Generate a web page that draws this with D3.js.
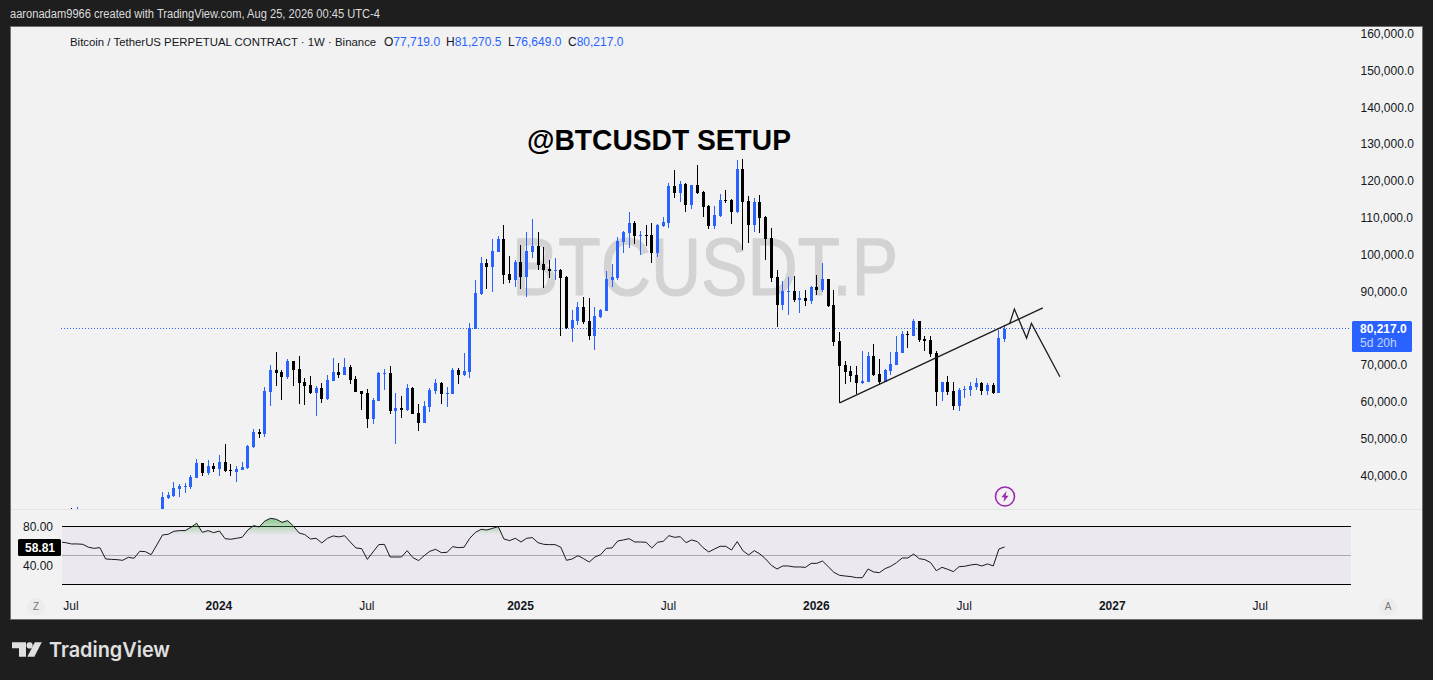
<!DOCTYPE html>
<html>
<head>
<meta charset="utf-8">
<script src="https://cdn.jsdelivr.net/npm/d3@7"></script>
<style>
    html, body { margin: 0; padding: 0; background: #1e1e1e; overflow: hidden; }
    svg { display: block; font-family: "Liberation Sans", Arial, sans-serif; }
    .domain { display: none; }
</style>
</head>
<body>
<div id="chart"></div>
<script>
// weekly candles, prices in thousands of USDT. First 18 weeks sit below the visible pane.
let opens = [26.3,30.5,30.5,30.2,30.3,29.9,29.3,29.2,29.0,29.4,26.0,26.1,25.9,25.8,26.5,26.5,26.3,27.9,
    30.0,33.9,34.4,36.3,36.9,36.9,39.3,43.4,40.7,42.6,
    41.8,43.7,41.5,41.0,41.5,42.0,47.7,51.8,51.3,62.7,
    68.6,68.1,66.7,71.1,68.9,65.4,64.6,62.4,63.8,60.8,
    65.7,68.1,67.3,69.5,66.2,62.9,62.4,55.3,60.2,67.5,
    67.8,57.5,58.3,57.8,63.8,57.0,54.3,58.6,62.9,65.1,
    62.1,62.1,68.6,67.3,68.1,79.8,89.3,97.7,96.6,100.7,
    104.2,94.7,93.1,98.0,93.9,100.7,102.3,97.4,96.1,95.5,
    95.8,93.9,80.0,82.0,85.7,82.0,77.9,83.0,84.7,93.1,
    93.6,103.4,105.8,108.5,105.0,105.3,105.3,100.4,107.7,108.5,
    118.6,116.7,119.1,113.4,118.9,117.0,113.2,107.7,110.5,114.8,
    114.8,111.5,123.2,114.5,108.0,114.3,110.2,104.5,93.9,86.3,
    89.8,90.1,87.6,88.2,87.4,91.2,90.4,93.3,86.3,76.5,
    70.0,68.4,67.3,65.1,65.4,72.4,67.6,65.4,68.4,70.0,
    73.3,78.4,77.9,81.9,77.1,76.8,73.3,62.7,65.4,62.9,
    58.9,63.2,63.2,64.0,65.1,62.9,64.6,62.4,77.1];

let highs = [30.7,30.8,31.3,31.4,30.4,30.0,29.7,30.2,29.7,29.6,26.8,28.1,26.4,26.9,27.5,26.8,28.5,30.0,
    35.5,35.5,38.2,37.7,38.0,40.1,44.5,43.4,44.2,43.4,
    45.6,48.5,43.1,42.6,43.7,48.3,52.6,52.6,64.0,70.0,
    73.5,68.6,71.6,71.1,72.4,66.5,67.0,64.3,65.1,67.3,
    71.9,70.5,71.9,70.0,67.0,62.9,63.5,61.0,68.1,68.9,
    69.7,62.4,61.6,64.8,64.0,59.4,60.2,63.8,66.2,65.4,
    64.0,69.2,69.2,73.3,81.4,93.1,99.3,98.8,104.2,105.0,
    108.0,99.6,98.5,102.6,106.1,109.6,106.1,102.0,98.5,99.0,
    96.1,94.2,84.9,87.1,88.5,88.2,85.7,85.2,95.5,97.4,
    104.8,106.4,111.5,109.1,106.4,108.0,108.6,108.3,110.2,119.4,
    122.9,120.0,119.4,118.9,124.3,117.2,113.4,113.2,116.4,117.5,
    115.1,125.7,125.9,115.9,115.3,116.2,110.5,107.2,95.8,92.8,
    93.9,94.2,90.1,90.4,91.4,94.4,97.7,93.3,90.4,78.9,
    71.1,69.7,69.7,73.8,73.5,75.7,71.6,68.9,73.5,77.9,
    79.2,79.2,82.5,81.9,77.9,77.9,73.8,65.4,67.0,65.4,
    63.8,64.3,65.4,66.5,65.4,65.1,65.1,79.5,80.9];

let lows = [26.2,29.5,29.9,29.7,29.6,29.2,28.9,28.6,28.7,25.2,25.6,25.9,24.9,25.6,26.4,26.0,26.0,27.2,
    29.9,33.6,34.2,34.2,35.2,36.3,39.3,39.9,40.1,41.0,
    39.9,41.0,39.9,38.2,41.5,41.8,47.5,50.2,50.4,58.9,
    64.3,60.5,66.2,64.3,59.4,59.1,62.1,56.2,59.7,60.5,
    65.7,66.5,67.3,64.8,62.7,57.8,52.9,54.0,60.2,63.2,
    56.7,48.5,55.6,57.5,56.7,52.1,54.3,57.2,62.1,59.4,
    58.6,62.1,64.8,67.0,66.5,79.8,89.0,90.6,89.8,100.7,
    92.0,92.3,91.2,90.6,88.5,99.0,95.8,90.9,93.6,93.1,
    77.9,79.8,76.2,80.9,81.1,76.8,74.1,82.8,84.7,91.3,
    93.1,100.4,101.8,102.9,99.9,102.3,97.7,99.3,107.5,107.2,
    115.3,114.3,111.5,112.4,116.4,110.2,106.9,106.9,110.2,114.0,
    108.3,111.3,101.2,103.1,106.1,105.8,98.5,92.5,80.3,84.9,
    83.6,87.1,84.1,86.0,86.6,89.0,89.8,85.7,75.2,59.7,
    64.8,65.4,62.1,64.8,65.4,67.0,64.6,65.4,67.3,70.0,
    73.3,74.6,77.9,76.2,73.8,72.2,58.9,60.2,61.9,57.8,
    57.5,61.0,61.6,63.2,61.9,61.9,62.1,62.4,76.2];

let closes = [30.5,30.4,30.3,30.3,29.9,29.3,29.2,29.0,29.4,26.0,26.1,25.9,25.8,26.5,26.5,26.3,27.9,30.0,
    34.2,34.7,36.6,37.1,37.1,39.6,43.4,40.7,42.6,41.8,
    43.7,41.2,41.2,41.8,42.3,48.0,51.8,51.3,62.9,68.6,
    67.8,66.7,71.1,68.6,65.1,64.3,62.4,63.8,60.8,65.9,
    68.1,67.3,69.5,65.9,62.7,62.1,55.3,60.5,67.8,67.8,
    57.5,58.3,57.8,63.8,56.7,54.3,58.9,63.2,65.1,62.1,
    62.4,68.6,67.3,68.4,80.0,89.5,97.7,96.6,101.0,104.2,
    94.4,93.1,98.0,93.9,101.0,102.3,97.1,95.8,95.5,95.8,
    93.6,80.0,82.2,85.7,81.7,77.9,83.3,84.9,93.4,93.9,
    103.7,106.1,108.5,105.0,105.3,105.0,100.4,108.0,108.8,118.6,
    116.7,119.1,113.4,118.9,116.7,112.9,107.7,110.7,114.8,114.5,
    111.5,123.2,114.3,108.0,114.3,109.9,104.2,93.6,86.3,90.1,
    90.1,87.6,88.2,87.4,91.2,90.4,93.3,86.0,76.2,69.7,
    68.1,67.0,65.1,65.7,72.4,67.3,65.4,68.6,70.3,73.5,
    78.4,78.1,81.9,76.8,76.5,73.0,62.7,65.4,62.7,58.9,
    63.2,63.5,64.3,65.1,62.9,64.6,62.4,77.3,79.8];

let rsi = [63.9,63.2,61.9,61.9,61.5,58.5,57.4,58.1,46.5,46.1,45.8,45.1,48.2,47.2,54.4,54.0,50.9,60.8,
    71.1,71.8,74.9,75.6,75.6,79.0,83.1,73.8,75.6,73.5,
    75.2,67.3,66.7,67.7,68.7,76.2,80.7,79.3,85.5,88.2,
    87.2,84.1,85.8,80.3,73.2,71.5,67.0,67.7,62.9,67.7,
    70.1,69.1,70.4,63.9,57.8,57.1,46.1,53.7,61.2,61.5,
    48.5,48.5,48.5,55.0,47.9,44.8,49.9,54.4,56.4,53.0,
    53.3,59.1,58.1,58.5,67.7,73.8,76.9,76.2,77.9,79.7,
    67.0,65.3,67.7,63.9,67.7,68.4,63.2,61.5,61.2,61.2,
    58.5,45.1,46.5,49.9,46.8,43.4,48.5,50.9,57.4,57.8,
    64.9,66.0,67.3,63.9,63.9,63.6,57.8,63.6,64.6,70.4,
    68.7,69.4,63.2,66.0,64.3,58.1,53.7,56.7,59.5,59.5,
    55.7,64.3,55.0,50.6,55.0,51.6,46.5,40.0,36.2,39.3,
    39.3,38.3,38.3,37.9,42.0,42.0,44.4,38.6,32.8,29.7,
    29.0,28.4,27.3,27.3,36.2,33.1,32.5,36.6,39.0,42.7,
    47.5,47.5,51.6,46.8,45.8,42.7,34.5,37.9,35.9,33.5,
    38.6,39.0,40.3,41.0,39.3,41.4,39.3,56.7,58.81];

let priceTicks = [40, 50, 60, 70, 90, 100, 110, 120, 130, 140, 150, 160];
let rsiTicks = [40, 80];
let timeTickDates = ["2023-07-03", "2024-01-01", "2024-07-01", "2025-01-06", "2025-07-07", "2026-01-05", "2026-07-06", "2027-01-04", "2027-07-05"];
let timeTickLabels = ["Jul", "2024", "Jul", "2025", "Jul", "2026", "Jul", "2027", "Jul"];

// hand drawn lines on the chart: [date, price]
let trendLine = [["2026-02-02", 59.7], ["2026-10-10", 85.5]];
let zigzag = [["2026-08-30", 81.1], ["2026-09-05", 85.2], ["2026-09-20", 77.3], ["2026-09-26", 81.3], ["2026-10-31", 66.8]];

let width = 1433, height = 680;
let blue = "#2962ff";
let ink = "#131722";

let weeks = d3.utcMonday.range(new Date(Date.UTC(2023, 5, 19)), new Date(Date.UTC(2026, 7, 25)));
let candles = weeks.map(function (d, i) {
    return { date: d, o: opens[i], h: highs[i], l: lows[i], c: closes[i], rsi: rsi[i] };
});

let x = d3.scaleUtc()
    .domain([new Date(Date.UTC(2023, 5, 19)), new Date(Date.UTC(2027, 6, 5))])
    .range([60.08, 1260.67]);
let y = d3.scaleLinear().domain([40, 160]).range([475.5, 33.5]);
let yRsi = d3.scaleLinear().domain([20, 80]).range([584.8, 526.3]);

let svg = d3.select("#chart").append("svg").attr("width", width).attr("height", height);
let defs = svg.append("defs");

defs.append("clipPath").attr("id", "mainClip").append("rect")
    .attr("x", 61).attr("y", 27).attr("width", 1290).attr("height", 482);
defs.append("clipPath").attr("id", "rsiClip").append("rect")
    .attr("x", 62).attr("y", 510).attr("width", 1289).attr("height", 80);

let grad = defs.append("linearGradient").attr("id", "obFill")
    .attr("gradientUnits", "userSpaceOnUse")
    .attr("x1", 0).attr("x2", 0).attr("y1", yRsi(88)).attr("y2", yRsi(71));
grad.append("stop").attr("offset", 0).attr("stop-color", "#4caf50").attr("stop-opacity", 0.62);
grad.append("stop").attr("offset", 1).attr("stop-color", "#4caf50").attr("stop-opacity", 0);

// frame
svg.append("rect").attr("x", 10.5).attr("y", 26.5).attr("width", 1412).attr("height", 593)
    .attr("fill", "#f2f2f2").attr("stroke", "#6e6e6e");

svg.append("text").attr("x", 10).attr("y", 18).attr("fill", "#dcdcdc").attr("font-size", 12)
    .attr("textLength", 370).attr("lengthAdjust", "spacingAndGlyphs")
    .text("aaronadam9966 created with TradingView.com, Aug 25, 2026 00:45 UTC-4");

// watermark sits under the candles
svg.append("text").attr("x", 512).attr("y", 295).attr("fill", "#d3d3d3")
    .attr("stroke", "#d3d3d3").attr("stroke-width", 1.2).attr("font-size", 81)
    .attr("textLength", 386).attr("lengthAdjust", "spacingAndGlyphs").text("BTCUSDT.P");

svg.append("text").attr("x", 70).attr("y", 46).attr("fill", ink).attr("font-size", 11.4)
    .text("Bitcoin / TetherUS PERPETUAL CONTRACT · 1W · Binance");

let legendKeys = ["O", "H", "L", "C"];
let legendVals = ["77,719.0", "81,270.5", "76,649.0", "80,217.0"];
let legendPos = [384, 446, 508, 568];
legendKeys.forEach(function (k, i) {
    let t = svg.append("text").attr("x", legendPos[i]).attr("y", 46).attr("font-size", 12);
    t.append("tspan").attr("fill", ink).text(k);
    t.append("tspan").attr("fill", blue).text(legendVals[i]);
});

svg.append("text").attr("x", 527).attr("y", 150)
    .attr("font-size", 30).attr("font-weight", "bold").attr("fill", "#000")
    .attr("textLength", 264).attr("lengthAdjust", "spacingAndGlyphs")
    .text("@BTCUSDT SETUP");

// pane separator
svg.append("rect").attr("x", 11).attr("y", 509).attr("width", 1411).attr("height", 1).attr("fill", "#e4e4e4");

let main = svg.append("g").attr("clip-path", "url(#mainClip)");

// last price line
main.append("line")
    .attr("x1", 61).attr("x2", 1351)
    .attr("y1", Math.floor(y(closes[closes.length - 1])) + 0.5)
    .attr("y2", Math.floor(y(closes[closes.length - 1])) + 0.5)
    .attr("stroke", blue).attr("stroke-dasharray", "1 2").attr("shape-rendering", "crispEdges");

let candleG = main.append("g").attr("shape-rendering", "crispEdges");
candleG.selectAll(".wick").data(candles).join("rect").attr("class", "wick")
    .attr("x", function (d) { return Math.floor(x(d.date)); })
    .attr("y", function (d) { return Math.round(y(d.h)); })
    .attr("width", 1)
    .attr("height", function (d) { return Math.round(y(d.l)) - Math.round(y(d.h)); })
    .attr("fill", function (d) { return d.c > d.o ? blue : "#000"; });
candleG.selectAll(".body").data(candles).join("rect").attr("class", "body")
    .attr("x", function (d) { return Math.floor(x(d.date)) - 1; })
    .attr("y", function (d) { return Math.round(y(Math.max(d.o, d.c))); })
    .attr("width", 3)
    .attr("height", function (d) {
        return Math.max(1, Math.round(y(Math.min(d.o, d.c))) - Math.round(y(Math.max(d.o, d.c))));
    })
    .attr("fill", function (d) { return d.c > d.o ? blue : "#000"; });

// drawings
let drawing = d3.line()
    .x(function (d) { return x(new Date(d[0])); })
    .y(function (d) { return y(d[1]); });
main.append("path").attr("d", drawing(trendLine)).attr("fill", "none").attr("stroke", "#1c1c1c").attr("stroke-width", 1.3);
main.append("path").attr("d", drawing(zigzag)).attr("fill", "none").attr("stroke", "#1c1c1c").attr("stroke-width", 1.3);

// price axis
let yAxis = d3.axisRight(y).tickValues(priceTicks).tickSize(0).tickPadding(9.5)
    .tickFormat(function (d) { return d3.format(",.1f")(d * 1000); });
svg.append("g").attr("transform", "translate(1351,0)").call(yAxis)
    .selectAll("text").attr("font-size", 12).attr("font-family", "inherit").attr("fill", ink);

// last price label
svg.append("rect").attr("x", 1352).attr("y", 321).attr("width", 60).attr("height", 31).attr("rx", 1.5).attr("fill", blue);
svg.append("text").attr("x", 1360).attr("y", 333).attr("font-size", 12).attr("font-weight", "bold").attr("fill", "#fff").text("80,217.0");
svg.append("text").attr("x", 1360).attr("y", 347).attr("font-size", 12).attr("fill", "#c6d4ff").text("5d 20h");

// alert icon
let icon = svg.append("g").attr("transform", "translate(1005,496.5)");
icon.append("circle").attr("r", 9.5).attr("fill", "none").attr("stroke", "#9c27b0").attr("stroke-width", 1.6);
icon.append("path").attr("d", "M1.6,-5.5 L-3.6,0.8 L-0.6,0.8 L-1.6,5.5 L3.6,-0.8 L0.6,-0.8 Z").attr("fill", "#9c27b0");

// rsi pane
let rsiG = svg.append("g");
rsiG.append("rect").attr("x", 62).attr("width", 1289)
    .attr("y", yRsi(80)).attr("height", yRsi(20) - yRsi(80)).attr("fill", "#ebe8ef");
[80, 20].forEach(function (v) {
    rsiG.append("line").attr("x1", 62).attr("x2", 1351)
        .attr("y1", Math.floor(yRsi(v)) + 0.5).attr("y2", Math.floor(yRsi(v)) + 0.5).attr("stroke", "#000");
});
rsiG.append("line").attr("x1", 62).attr("x2", 1351)
    .attr("y1", Math.floor(yRsi(50)) + 0.5).attr("y2", Math.floor(yRsi(50)) + 0.5).attr("stroke", "#a9a9a9");

let obArea = d3.area()
    .x(function (d) { return x(d.date); })
    .y0(yRsi(71))
    .y1(function (d) { return yRsi(Math.max(d.rsi, 71)); });
rsiG.append("path").attr("clip-path", "url(#rsiClip)").attr("d", obArea(candles)).attr("fill", "url(#obFill)");

let rsiLine = d3.line()
    .x(function (d) { return x(d.date); })
    .y(function (d) { return yRsi(d.rsi); });
rsiG.append("path").attr("clip-path", "url(#rsiClip)").attr("d", rsiLine(candles))
    .attr("fill", "none").attr("stroke", "#1a1a1a").attr("stroke-width", 1);

let rsiAxis = d3.axisLeft(yRsi).tickValues(rsiTicks).tickSize(0).tickPadding(8)
    .tickFormat(d3.format(".2f"));
svg.append("g").attr("transform", "translate(61,0)").call(rsiAxis)
    .selectAll("text").attr("font-size", 12).attr("font-family", "inherit").attr("fill", ink);

svg.append("rect").attr("x", 18).attr("y", 539).attr("width", 43).attr("height", 17).attr("rx", 1.5).attr("fill", "#000");
svg.append("text").attr("x", 40).attr("y", 552).attr("text-anchor", "middle").attr("font-size", 12)
    .attr("font-weight", "bold").attr("fill", "#fff").text("58.81");

// time axis
let xAxis = d3.axisBottom(x)
    .tickValues(timeTickDates.map(function (d) { return new Date(d); }))
    .tickSize(0).tickPadding(0)
    .tickFormat(function (d, i) { return timeTickLabels[i]; });
svg.append("g").attr("transform", "translate(-1,601.5)").call(xAxis)
    .selectAll("text").attr("font-size", 12).attr("font-family", "inherit").attr("fill", ink)
    .attr("font-weight", function (d, i) { return timeTickLabels[i] === "Jul" ? "normal" : "bold"; });

// corner buttons
[["Z", 36], ["A", 1388]].forEach(function (b) {
    svg.append("circle").attr("cx", b[1]).attr("cy", 606.5).attr("r", 9).attr("fill", "#ececec");
    svg.append("text").attr("x", b[1]).attr("y", 610).attr("text-anchor", "middle")
        .attr("font-size", 10).attr("fill", "#777").text(b[0]);
});

// logo
let logo = svg.append("g").attr("fill", "#e0e0e0");
logo.append("path").attr("d", "M12,642.3 H26 V656.7 H19 V648.3 H12 Z");
logo.append("circle").attr("cx", 29.6).attr("cy", 645.4).attr("r", 3.1);
logo.append("path").attr("d", "M34.8,642.3 H41.8 L34.3,656.7 H27.3 Z");
svg.append("text").attr("x", 49).attr("y", 657).attr("font-family", "Inter").attr("font-weight", 600)
    .attr("font-size", 20.5).attr("fill", "#e0e0e0").attr("textLength", 121).attr("lengthAdjust", "spacingAndGlyphs")
    .text("TradingView");
</script>
</body>
</html>
